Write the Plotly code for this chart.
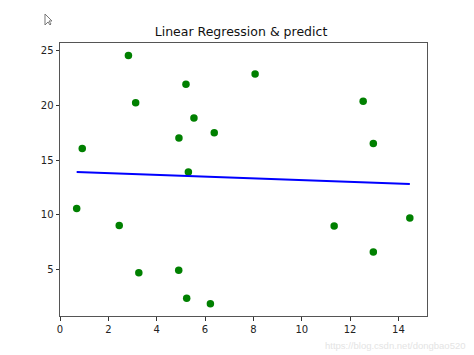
import plotly.graph_objects as go

# Observed data points
x_points = [2.83, 3.13, 0.92, 0.69, 2.45, 3.26, 8.07, 5.21, 5.54, 4.92,
            6.38, 5.31, 4.91, 5.24, 6.22, 12.54, 12.96, 14.47, 11.34, 12.96]
y_points = [24.55, 20.24, 16.07, 10.59, 9.04, 4.73, 22.88, 21.94, 18.84, 17.02,
            17.50, 13.91, 4.94, 2.38, 1.90, 20.39, 16.52, 9.72, 8.99, 6.62]

# Regression line (predicted values at the extreme x values)
line_x = [0.69, 14.47]
line_y = [13.93, 12.83]

title_text = "Linear Regression & predict"
x_ticks = [0, 2, 4, 6, 8, 10, 12, 14]
y_ticks = [5, 10, 15, 20, 25]
watermark = "https://blog.csdn.net/dongbao520"

FONT = "DejaVu Sans, Liberation Sans, sans-serif"

# The page body has an 8px margin; size the figure to fill the remaining window
W, H = 466, 347

fig = go.Figure()
fig.add_trace(go.Scatter(
    x=x_points, y=y_points, mode="markers",
    marker=dict(color="#008000", size=7.5, line=dict(width=0)),
    showlegend=False, hoverinfo="skip"))
fig.add_trace(go.Scatter(
    x=line_x, y=line_y, mode="lines",
    line=dict(color="#0000ff", width=2),
    showlegend=False, hoverinfo="skip"))

axis_common = dict(
    showgrid=False, zeroline=False,
    showline=True, linecolor="#555555", linewidth=1, mirror=True,
    ticks="outside", ticklen=3.5, tickwidth=1, tickcolor="#333333",
    tickfont=dict(family=FONT, size=10, color="#222222"),
)

fig.update_layout(
    width=W, height=H,
    margin=dict(l=52, r=47, t=35, b=39),
    paper_bgcolor="white", plot_bgcolor="white",
    title=dict(text=title_text, x=0.5, xanchor="center",
               y=1 - 24 / H, yanchor="middle",
               font=dict(family=FONT, size=12.5, color="#111111")),
    xaxis=dict(range=[0.0, 15.18], tickvals=x_ticks,
               ticktext=[str(v) for v in x_ticks], **axis_common),
    yaxis=dict(range=[0.77, 25.7], tickvals=y_ticks,
               ticktext=[str(v) for v in y_ticks], **axis_common),
    annotations=[dict(
        text=watermark, xref="paper", yref="paper",
        x=(468 - 60) / 367, y=(316 - 345) / 273,
        xanchor="right", yanchor="middle", showarrow=False,
        font=dict(family="Liberation Sans, Arial, sans-serif", size=9.5,
                  color="#e4e4e4"))],
    shapes=[dict(
        type="path", xref="paper", yref="paper",
        path="M -0.0409,1.1062 L -0.0409,1.0659 L -0.0327,1.0769 "
             "L -0.0272,1.0659 L -0.0245,1.0696 L -0.0300,1.0806 "
             "L -0.0218,1.0806 Z",
        line=dict(color="#777777", width=1), fillcolor="white")],
)

fig.write_html("out.html")
